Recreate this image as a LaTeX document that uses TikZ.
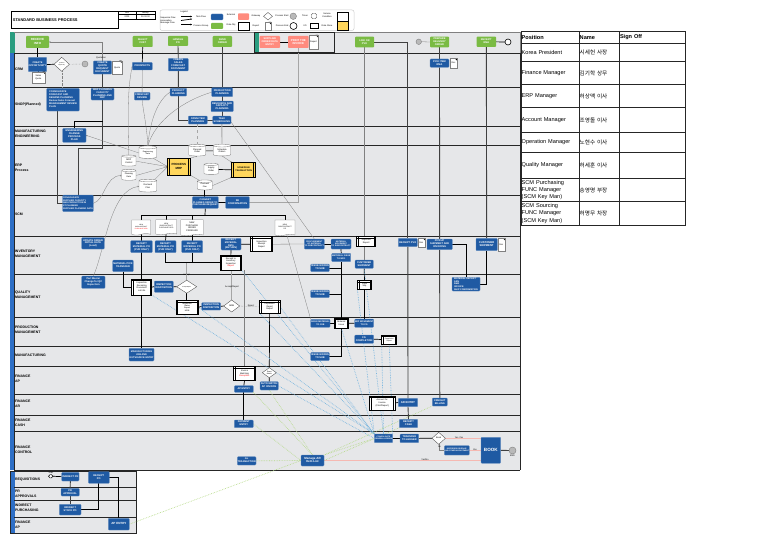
\documentclass[tikz,border=0pt]{standalone}
\usepackage{fontspec}
\usepackage{graphicx}
\setmainfont{Liberation Sans}
\newfontfamily\krfont{Noto Sans CJK KR}
\usetikzlibrary{shapes.geometric,shapes.symbols,shapes.misc,arrows.meta,calc}
\definecolor{lanegray}{HTML}{E6E7E9}
\definecolor{bbl}{HTML}{1F5AA3}
\definecolor{ggn}{HTML}{7ABB43}
\definecolor{pnk}{HTML}{FF8B7E}
\definecolor{stripb}{HTML}{2E6FC6}
\definecolor{teal1}{HTML}{2A9D80}
\definecolor{yel}{HTML}{FFD65C}
\definecolor{dotb}{HTML}{6FB2DE}
\definecolor{dotg}{HTML}{B4DA86}
\definecolor{pnkl}{HTML}{F6B9B2}
\pgfdeclarelayer{bgl}\pgfdeclarelayer{edg}\pgfsetlayers{bgl,edg,main}
\newcommand\bxt{\fontsize{2.5}{2.9}\selectfont\bfseries}
\newcommand\lbt{\fontsize{3.5}{5.2}\selectfont\bfseries}
\newcommand\smt{\fontsize{2.2}{2.6}\selectfont}
\newcommand\cellt{\fontsize{5.6}{7.4}\selectfont}
\def\myfac{1}\def\myal{c}
\newsavebox\myb
\newcommand\fitt[1]{\sbox\myb{\if l\myal\begin{tabular}{@{}l@{}}#1\end{tabular}\else\begin{tabular}{@{}c@{}}#1\end{tabular}\fi}%
 \pgfmathsetmacro\mysc{min(1,\myfac*(\mywd-.8)/max(\wd\myb,.1),\myfac*(\myht-.4)/max(\ht\myb+\dp\myb,.1))}%
 \scalebox{\mysc}{\usebox\myb}}
\tikzset{
 lft/.code={\def\myal{l}},
 ffac/.code={\def\myfac{#1}},
 base/.style={inner sep=0pt,outer sep=0pt,align=center,font=\bxt},
 bb/.style={base,fill=bbl,text=white,rounded corners=.8pt,draw=bbl!70!white,line width=.3pt},
 gb/.style={base,fill=ggn,text=white,rounded corners=.8pt},
 pb/.style={base,fill=pnk,text=white,rounded corners=.8pt},
 dbl/.style={base,fill=white,draw=black,line width=.8pt,font=\smt,ffac=.72,
   path picture={\draw[line width=.3pt,black] ([xshift=1.4pt]path picture bounding box.north west)--([xshift=1.4pt]path picture bounding box.south west)
     ([xshift=-1.4pt]path picture bounding box.north east)--([xshift=-1.4pt]path picture bounding box.south east)
     ([yshift=-1.2pt]path picture bounding box.north west)--([yshift=-1.2pt]path picture bounding box.north east);}},
 wave/.style={base,shape=tape,tape bend top=none,tape bend height=1.5pt,fill=white,draw=gray,line width=.3pt,font=\smt,ffac=.7},
 cyl/.style={base,shape=cylinder,shape border rotate=90,aspect=.3,fill=white,draw=gray,line width=.35pt,font=\smt,ffac=.6},
 yb/.style={base,fill=yel,draw=black,line width=.7pt,font=\fontsize{3}{3.6}\selectfont\bfseries,ffac=.72,
   path picture={\draw[line width=.6pt] ([xshift=2pt]path picture bounding box.north west)--([xshift=2pt]path picture bounding box.south west)
     ([xshift=-2pt]path picture bounding box.north east)--([xshift=-2pt]path picture bounding box.south east);}},
 dia/.style={base,shape=diamond,aspect=1.3,fill=white,draw=black!70,line width=.35pt,font=\smt,ffac=.45},
 ev/.style={base,shape=circle,fill=gray!55,draw=gray,line width=.4pt},
 evk/.style={base,shape=circle,fill=white,draw=black,line width=.6pt},
 dc/.style={base,fill=white,draw=gray,line width=.3pt,font=\smt,ffac=.8,
   path picture={\fill[black] ([xshift=-2.4pt]path picture bounding box.north east) -- (path picture bounding box.north east) -- ([yshift=-2.4pt]path picture bounding box.north east) -- cycle;}},
 lbl/.style={base,font=\lbt,anchor=west,align=left},
 tag/.style={base,font=\smt},
 cell/.style={inner sep=.6pt,outer sep=0pt,draw=black!85,line width=.7pt,font=\cellt,align=left},
 ln/.style={draw=black,line width=.7pt},
 ln2/.style={draw=black!75,line width=.9pt},
 gl/.style={draw=gray,line width=.4pt},
 gl2/.style={draw=gray!70,line width=.9pt},
 gc/.style={draw=gray,line width=.3pt},
 bd/.style={draw=dotb,line width=.65pt,densely dotted},
 gd/.style={draw=dotg,line width=.65pt,densely dotted},
 pd/.style={draw=pnkl,line width=.5pt},
 tip/.style={-{Stealth[length=1.5pt,width=1.5pt]}},
}
\newcommand\bx[7][]{\pgfmathsetmacro\mywd{#5-#3}\pgfmathsetmacro\myht{#6-#4}\pgfmathsetmacro\mycx{(#3+#5)/2}\pgfmathsetmacro\mycy{(#4+#6)/2}%
 \node[#1,minimum width=\mywd pt,minimum height=\myht pt] (#2) at (\mycx,\mycy) {\fitt{#7}};}
\newcommand\cel[7]{\pgfmathsetmacro\mywd{#4-#3}\pgfmathsetmacro\myht{#6-#5}\pgfmathsetmacro\mycx{(#3+#4)/2}\pgfmathsetmacro\mycy{(#5+#6)/2}\pgfmathsetmacro\mytw{#4-#3-1.4}%
 \node[cell,minimum width=\mywd pt,minimum height=\myht pt,text width=\mytw pt] (#1#2) at (\mycx,\mycy) {#7};}
\newcommand\trow[5]{\cel{ta}{#1}{521}{579}{#2}{#3}{#4}\cel{tb}{#1}{579}{619.3}{#2}{#3}{\krfont #5}\cel{tc}{#1}{619.3}{685.3}{#2}{#3}{}}
\begin{document}
\begin{tikzpicture}[x=1pt,y=-1pt]
\useasboundingbox (0,0) rectangle (768,543);
% ---------- frames
\begin{pgfonlayer}{bgl}
\fill[lanegray] (14,32) rectangle (520,470);
\fill[stripb] (10,53) rectangle (14.5,470);
\fill[teal1] (10,32) rectangle (14.5,53);
\draw[gray,line width=.6pt] (14,32) -- (520,32) -- (520,53);
\foreach \yy in {53,87,126,145,195,236,274,317,346,366,394,415.5,431.5,470}
  \draw[black!85,line width=.75pt] (14,\yy) -- (520,\yy);
\draw[black!85,line width=.75pt] (520,53) -- (520,470);
\draw[black!85,line width=.6pt] (14.5,53) -- (14.5,470);
\fill[lanegray] (14,472) rectangle (136.7,533.5);
\fill[stripb] (10,472) rectangle (14.5,533.5);
\draw[black!85,line width=.7pt] (10,471.7) rectangle (136.7,533.5);
\foreach \yy in {487.7,500.7,517.3}
  \draw[black!85,line width=.7pt] (14,\yy) -- (136.7,\yy);
\end{pgfonlayer}
% ---------- header
\node[base,draw=black,line width=.6pt,font=\fontsize{4}{4.6}\selectfont\bfseries,text width=104pt,inner xsep=1.1pt,align=left,minimum height=16.8pt] (title) at (64.85,20.1) {STANDARD BUSINESS PROCESS};
\bx[base,draw=black,line width=.5pt,font=\smt]{hA}{118}{11.7}{136}{14.7}{Rev}
\bx[base,draw=black,line width=.5pt,font=\smt]{hB}{136}{11.7}{155}{14.7}{Modify}
\bx[base,draw=black,line width=.5pt,font=\smt]{hC}{118}{14.7}{136}{19}{0000}
\bx[base,draw=black,line width=.5pt,font=\smt]{hD}{136}{14.7}{155}{19}{00.00.00}
\bx[base,draw=black!20,line width=.5pt,rounded corners=2pt]{legend}{160}{10}{354}{30.5}{}
\node[tag] (legT) at (184,12) {Legend};
\node[tag,align=left] (legL) at (168,20.5) {Sequence Flow\\Association\\Message Flow};
\coordinate (la1) at (181,16.5); \coordinate (la2) at (192,16.5);
\coordinate (lb1) at (181,20.5); \coordinate (lb2) at (192,19);
\coordinate (lc1) at (181,24.5); \coordinate (lc2) at (192,24.5);
\draw[ln,tip] (la1)--(la2); \draw[ln,tip] (lb1)--(lb2); \draw[ln,tip] (lc1)--(lc2);
\node[tag] (l1) at (201,17) {Task Flow}; \node[tag] (l2) at (201,26) {Process Group};
\bx[bb]{lgB}{211}{14}{223}{20}{}
\bx[gb]{lgG}{211}{23}{223}{29}{}
\node[tag] (l3) at (231,15) {External}; \node[tag] (l4) at (231,25) {Data Obj};
\bx[pb]{lgP}{238}{13.3}{249}{20}{}
\bx[base,fill=white,draw=black,line width=.3pt]{lgW}{238}{22}{249}{30}{}
\node[tag] (l5) at (256,16) {Gateway}; \node[tag] (l6) at (256,26) {Report};
\bx[dia,aspect=1]{lgD}{263.5}{12.5}{272.5}{20}{}
\bx[dc]{lgDoc}{265}{22}{271}{30}{}
\node[tag] (l7) at (282,16) {Process Start}; \node[tag] (l8) at (282,26) {Process End};
\bx[ev]{lgS}{290}{13}{296.5}{19.5}{}
\bx[evk]{lgE}{290}{22.5}{297}{29.5}{}
\node[tag] (l9) at (305,15.5) {Timer}; \node[tag] (l10) at (305,26) {I/O};
\bx[base,shape=regular polygon,regular polygon sides=8,fill=white,draw=black!70,line width=.4pt]{lgO}{311}{13}{317}{19}{}
\bx[base,fill=white,draw=black,line width=.4pt]{lgC}{310}{23}{318}{28.5}{}
\node[tag,align=center] (l11) at (327,15) {Service\\Condition}; \node[tag] (l12) at (327,26) {Data Store};
\bx[base,fill=white,draw=black,line width=.9pt]{lgK1}{337}{12.7}{348}{21}{}
\bx[base,fill=yel,draw=black,line width=.9pt]{lgK2}{337}{21}{348}{30}{}
% ---------- lane labels
\node[lbl] (L1) at (15,69) {CRM};
\node[lbl] (L2) at (15,105) {SNOP(Planned)};
\node[lbl] (L3) at (15,134) {MANUFACTURING\\ENGINEERING};
\node[lbl] (L4) at (15,168) {ERP\\Process};
\node[lbl] (L5) at (15,214) {SCM};
\node[lbl] (L6) at (15,254) {INVENTORY\\MANAGEMENT};
\node[lbl] (L7) at (15,294.5) {QUALITY\\MANAGEMENT};
\node[lbl] (L8) at (15,330) {PRODUCTION\\MANAGEMENT};
\node[lbl] (L9) at (15,355) {MANUFACTURING};
\node[lbl] (L10) at (15,379) {FINANCE\\AP};
\node[lbl] (L11) at (15,403.5) {FINANCE\\AR};
\node[lbl] (L12) at (15,423) {FINANCE\\CASH};
\node[lbl] (L13) at (15,449.5) {FINANCE\\CONTROL};
\node[lbl] (L14) at (15,479.5) {REQUISITIONS};
\node[lbl] (L15) at (15,493.5) {PR\\APPROVALS};
\node[lbl] (L16) at (15,508) {INDIRECT\\PURCHASING};
\node[lbl] (L17) at (15,525) {FINANCE\\AP};
% ---------- top lane
\bx[gb,font=\fontsize{3}{3.6}\selectfont\bfseries]{gRecv}{26}{36}{49}{48}{RECEIVE\\INFO}
\bx[gb]{gSel}{132.7}{36}{152.7}{47}{SELECT\\CUST}
\bx[gb]{gHan}{168}{36}{188}{46}{HANDLE\\PO}
\bx[gb]{gSend}{212.7}{36}{232}{47}{SEND\\ORDER}
\bx[base,draw=black!85,line width=.9pt]{grp}{254.5}{32.5}{334}{52.5}{}
\bx[base,fill=teal1]{grpS}{255}{33}{258.5}{52}{}
\bx[pb]{pk1}{259.5}{36}{280}{48}{SUPPLIER\\ORDER DATA\\ENTRY}
\bx[pb,font=\fontsize{2.8}{3.3}\selectfont\bfseries]{pk2}{288}{36}{308.7}{48}{PRINT THE\\INVOICE}
\bx[dc]{pdoc}{309}{35}{318}{49}{Report}
\bx[gb]{gLink}{355}{36.7}{374}{47.3}{LINK OR\\PVO}
\bx[ev]{gcirc}{416}{39}{421.5}{44.5}{}
\bx[gb]{gDel}{430}{36.7}{449}{47.3}{PREPARE\\DELIVERY\\ORDER}
\bx[gb]{gShip}{476.7}{36.7}{496}{47}{RECEIPT\\RMA}
\bx[evk]{ccirc}{505}{39}{511}{45}{}
% CRM
\bx[bb]{opp}{28.3}{57.3}{46.7}{71.7}{CREATE\\OPPORTUNITY}
\bx[dia]{dia1}{54}{57.3}{69.4}{71.3}{Qualified\\Opportunity}
\bx[ev]{circ1}{82}{61}{88}{67}{}
\bx[dc]{doc1}{31.7}{71.7}{45}{83.3}{Sales\\Quote}
\bx[bb]{crm2}{93.3}{61}{111.7}{74}{CREATE\\QUOTE\\REQUEST\\DOCUMENT}
\bx[dc]{doc2}{112.3}{60.7}{121.7}{74.3}{Quote}
\node[tag] (tg1) at (101,57.5) {Quotation};
\bx[bb]{crm3}{132.3}{62.3}{152.3}{70}{PROSPECTS}
\bx[bb]{crm4}{168.3}{58.3}{188.3}{71}{CREATE\\SALES\\FORECAST\\DOCUMENT}
\bx[bb]{wh}{430}{59}{449}{67.3}{PICK ITEM\\RMA}
\bx[dc]{wdoc}{450}{58.3}{457}{67.7}{Doc}
% SNOP
\bx[bb,lft,font=\fontsize{2.4}{3}\selectfont\bfseries]{snop1}{46.7}{88.3}{79.3}{111}{CONSOLIDATE\\FORECAST AND\\DEMAND PLANNING\\Review Sales Forecast\\MANAGEMENT REVIEW\\PLAN}
\bx[bb]{snop2}{91}{88.3}{114}{100}{MRP PLANNING\\CAPACITY\\PLANNING AND\\DRP}
\bx[bb]{snop3}{134.3}{92.3}{150}{100}{FORECAST\\REVIEW}
\bx[bb]{snop4}{170}{88.3}{186.7}{96}{PRODUCT\\PLANNING}
\bx[bb]{snop5}{211.7}{87.7}{232.7}{96.7}{PRODUCTION\\PLANNING}
\bx[bb]{snop6}{211}{101}{233.3}{111.7}{RESOURCE AND\\CAPACITY\\PLANNING}
\bx[bb]{snopA}{188.3}{116}{207.3}{124}{OPEN ITEM\\PLANNING}
\bx[bb]{snopB}{212.7}{116}{231}{124}{TASK\\SCHEDULING}
% MFG ENG
\bx[bb]{mfg1}{62.7}{128.3}{86}{142.3}{ENGINEERING\\CHANGE\\PROCESS\\PLAN}
% ERP
\bx[cyl]{cA}{139}{146.7}{156.7}{159.3}{Engineering\\Data}
\bx[cyl]{cB}{121.7}{155.7}{136}{166.7}{MRP\\Control}
\bx[cyl]{cC}{121.7}{170}{136}{181}{Planning\\Data}
\bx[cyl]{cD}{139}{180}{156.7}{192.7}{Demand\\Plan}
\bx[yb]{yA}{167.7}{158.3}{190}{175}{PROCESS\\MRP}
\bx[cyl]{cE}{188.7}{145}{205.7}{156.7}{Planned\\Order}
\bx[cyl]{cF}{213.3}{145}{230.7}{156.7}{Schedule\\Orders}
\bx[cyl]{cG}{204}{164}{218.3}{175}{Supply\\Order}
\bx[yb]{yB}{231.7}{162.3}{255.7}{177.3}{SCHEDULE\\TRANSACTION}
\bx[cyl]{cH}{197.3}{180.7}{212.3}{190.7}{Purchase\\Plan}
% SCM
\bx[bb,lft]{scm1}{62.7}{195}{93.3}{211.7}{CONSOLIDATE\\SUPPLIER CAPACITY\\AND PRODUCTION IN\\ST PLANNING\\SUPPLIER PLANNING DATA}
\bx[bb]{scmA}{192.3}{196.7}{218.3}{208.3}{CONVERT\\PLANNED ORDER TO\\PURCHASE REQUEST}
\bx[bb]{scmB}{225.7}{196.7}{249.3}{208.3}{SD\\CONFIRMATION}
\bx[wave]{w1}{131.7}{219.3}{150.7}{234.3}{NEW\\SUBCONTRACT\\\textcolor{red}{PURCHASE ORD}}
\bx[wave]{w2}{155.7}{219}{176.7}{234}{NEW\\SUBCONTRACT\\PURCHASE ORD}
\bx[wave]{w3}{180.7}{219}{203.3}{235}{NEW\\PURCHASE\\ORDER\\STANDARD}
\bx[wave]{w4}{275}{219.3}{295}{235}{NEW\\SUBCONTRACT\\PO}
% INVENTORY
\bx[bb]{inv4}{81.7}{237.7}{104.3}{249}{UPDATE ORDER\\INITIAL DATE\\(Lead)}
\bx[bb]{inv1}{130.7}{240.7}{152.3}{252.7}{RECEIPT\\MATERIAL PO\\(PUR ONLY)}
\bx[bb]{inv2}{155}{240.7}{176}{252.7}{RECEIPT\\MATERIAL PO\\(PUR ONLY)}
\bx[bb]{inv3}{181.7}{240.7}{202.7}{252.7}{RECEIPT\\MATERIAL PO\\(PUR ONLY)}
\bx[bb]{inv5}{221}{238.3}{241}{250}{RECEIPT\\MATERIAL\\RMA\\(RETURN)}
\bx[dbl]{d2}{250.7}{236.7}{272.3}{251.7}{Inspection\\Receipt\\Report}
\bx[bb]{p1}{304.3}{239}{324.3}{249}{PROCUREMENT\\OF MATERIAL\\TO SUBCONTRACT}
\bx[bb]{p2}{331}{239}{351}{249}{MATERIAL\\MOVEMENT\\TO SUBCONTRACT}
\bx[bb]{p3}{331.7}{253.3}{350.7}{261.7}{MATERIAL ISSUE\\TO MFG}
\bx[dbl]{dt}{356.7}{236.7}{375.7}{246.7}{Shipment\\Report}
\bx[bb]{rcv}{398.3}{238.3}{417.3}{246.7}{RECEIPT PVO}
\bx[dc]{rdoc}{417.7}{238}{425}{247}{Doc}
\bx[bb]{pick}{427}{239}{452.3}{249.6}{PICKUP\\SHIPMENT AND\\INVOICING}
\bx[bb,font=\fontsize{2.7}{3.2}\selectfont\bfseries]{custS}{476}{238.3}{497.3}{250.6}{CUSTOMER\\SHIPMENT}
\bx[dc]{cdoc}{497.7}{238}{505}{251}{Doc}
\bx[bb]{invA}{112.7}{260}{133.3}{271.7}{MATERIAL PICK\\TRANSFER}
\bx[dbl]{dblI}{220}{255}{241.7}{270}{Receipt to\\Inventory\\Inspection\\\textcolor{red}{Report}}
\bx[bb]{m1}{310.7}{264}{329.3}{271.7}{ISSUE GOODS\\TO SUB}
\bx[bb]{cust}{355}{260}{373.3}{268.3}{CUSTOMER\\SHIPMENT}
% QUALITY
\bx[bb]{q1}{81.7}{276}{105}{288.3}{Part Master\\Change for QC\\Inspection}
\bx[dbl]{qd1}{131.7}{279.3}{151.7}{295}{Inspection\\Receiving\\Document\\Lot Info}
\bx[bb]{qb1}{154.3}{281}{173.3}{292.3}{INSPECTION\\DISPOSITION}
\bx[dia]{qdia1}{176.7}{280.2}{196.7}{293.2}{Accept/Reject}
\node[tag] (qtg1) at (186.7,275) {Accept};
\bx[dbl]{qd2}{176}{300.7}{198.3}{314}{Inspection\\Status\\Report\\MRB}
\bx[bb]{qb2}{201.7}{302.7}{220.7}{310}{INSPECTION\\DISPOSITION}
\bx[dia]{qdia2}{223.7}{300}{239.7}{312}{MRB}
\node[tag] (qtg2) at (232,287.3) {Accept/Reject};
\node[tag] (qtg3) at (251,306) {Reject};
\bx[dbl]{qd3}{259.3}{300.7}{280}{313}{Inspection\\Reject\\Report}
\bx[bb]{m2}{310.7}{290}{329.3}{297.7}{ISSUE GOODS\\TO SUB}
\bx[dbl]{qs}{357.3}{280.7}{371.7}{289}{Pack\\Slip}
\bx[bb,lft]{sum}{452}{277.3}{480}{291}{MATERIAL RECEIPT\\ASN\\RMA\\INVOICE\\SHIP CONFIRMATION}
% PRODUCTION
\bx[bb]{m4}{310.7}{319.3}{330}{327.3}{ISSUE MATERIAL\\TO JOB}
\bx[dbl]{pd1}{334}{318.3}{348.7}{328.3}{Material\\Issue}
\bx[bb]{pc1}{354.7}{319}{373.7}{327.3}{WIP MOVEMENT\\TO FG}
\bx[bb]{pc2}{354.7}{335}{373.7}{343.3}{FG\\COMPLETION}
\bx[dbl]{pdb}{381.7}{335}{396.7}{344}{Job\\Completion\\Report}
% MFG
\bx[bb]{mfgB}{129}{348.3}{154}{361}{MANUFACTURING\\JOB AND\\OUTSOURCE ENTRY}
\bx[bb]{m3}{310.7}{352.3}{329.3}{360.7}{ISSUE GOODS\\TO SUB}
% FINANCE
\bx[dbl]{fdbl}{233.3}{366.7}{255.7}{380.7}{Invoice\\Matching\\\textcolor{red}{Exception}}
\bx[dia]{fdia}{262.3}{367.7}{276.3}{377.7}{Exact\\Match}
\bx[bb]{fb1}{234.3}{385.7}{253.3}{392.3}{AP ENTRY}
\bx[bb]{fb3}{260}{381.7}{278.3}{390}{AUTO MATCH\\AP INVOICE}
\bx[dbl]{fd}{369.3}{396}{395}{410}{Account for\\Invoice\\(Print/Report)}
\bx[bb,font=\fontsize{2.8}{3.3}\selectfont\bfseries]{ar1}{398.3}{398.3}{417.7}{406.7}{AR ENTRY}
\bx[bb]{ship}{432.3}{398}{447.3}{406}{FREIGHT\\BILLING}
\bx[bb]{fb2}{234.3}{420}{253.3}{427.7}{PAYMENT\\ENTRY}
\bx[bb]{cash}{399.3}{419.3}{417.7}{427.7}{RECEIPT\\CASH}
\bx[bb]{cons}{374.3}{434}{392.7}{442.7}{CONSOLIDATE\\GENERAL LEDGER}
\bx[bb]{ft}{400}{434}{418.7}{442.7}{TRANSFER\\TO LEDGER}
\bx[dia]{fdia2}{432}{432.3}{445.4}{444.3}{Book}
\bx[bb]{fbx}{444.3}{445.7}{469.3}{455}{DEFERRED REVENUE\\AND OTHER ADJUSTMENT}
\bx[bb,font=\fontsize{4.6}{5}\selectfont\bfseries]{book}{481}{437.3}{500.7}{463.3}{BOOK}
\bx[ev]{endc}{509}{447}{516}{454}{}
\node[tag] (endt) at (512.5,456) {END};
\bx[bb]{gl}{237.3}{456.7}{256}{465}{GL\\TRANSACTION}
\bx[bb,font=\fontsize{3}{3.5}\selectfont\bfseries]{tb}{301}{455}{324}{466}{Manage AR\\Item List}
\node[tag] (yt1) at (459,438) {Yes / No};
\node[tag] (yt2) at (475,450) {Yes};
\node[tag] (yt3) at (425,460) {Yes/No};
\node[tag] (yt4) at (439.5,446.5) {No};
% mini table
\bx[base,shape=rounded rectangle,fill=white,draw=black,line width=.4pt]{rq0}{48.5}{474.5}{53}{478}{}
\node[tag] (rqt) at (51,473) {Start};
\bx[bb]{rq1}{61.7}{472.3}{79}{481}{INDIRECT PR}
\bx[bb]{rq2}{88.3}{471.7}{109.3}{483.3}{RECEIPT\\PO}
\bx[bb]{rq3}{61}{488.3}{79.3}{496}{PR\\APPROVAL}
\bx[bb]{rq4}{59.3}{504.3}{81}{515}{INDIRECT\\STOCK PO}
\bx[bb,font=\fontsize{3}{3.5}\selectfont\bfseries]{rq5}{108.3}{518.3}{129.3}{530}{AP ENTRY}
% sign-off table
\trow{0}{31.7}{43.3}{\textbf{Position}}{\rmfamily\textbf{Name}}
\node[cell,minimum width=66pt,minimum height=11.6pt,text width=64.6pt] (hsign) at (652.3,37.5) {\textbf{Sign Off}};
\trow{1}{43.3}{61.7}{Korea President}{시세헌 사장}
\trow{2}{61.7}{84.3}{Finance Manager}{김기학 상무}
\trow{3}{84.3}{107.7}{ERP Manager}{허상맥 이사}
\trow{4}{107.7}{132.3}{Account Manager}{조영돌 이사}
\trow{5}{132.3}{152.7}{Operation Manager}{노현수 이사}
\trow{6}{152.7}{178.3}{Quality Manager}{허세훈 이사}
\trow{7}{178.3}{201.7}{SCM Purchasing\\FUNC Manager\\(SCM Key Man)}{송영명 부장}
\trow{8}{201.7}{225}{SCM Sourcing\\FUNC Manager\\(SCM Key Man)}{허명무 차장}
% ---------- connectors
\begin{pgfonlayer}{edg}
\coordinate (c1) at (57.3,111); \coordinate (c2) at (78,148.3); \coordinate (c3) at (102.5,121.7);
\coordinate (bus) at (205,215); \coordinate (qa) at (244.3,270);
\coordinate (dg1) at (231,122); \coordinate (dg2) at (286,232);
\draw[ln] (gRecv.south)--(opp.north);
\draw[ln] (opp.east)--(dia1.west);
\draw[gl,densely dotted] (dia1.east)--(circ1.west);
\draw[ln] (opp.south)--(doc1.north);
\draw[gl,densely dotted] (dia1.south)--(dia1.south |- snop1.north);
\draw[gl,tip] (crm2.north) |- (gRecv.east);
\draw[ln2] (crm2.south)--(snop2.north);
\draw[ln] (gSel.south)--(crm3.north);
\draw[gl] (crm3.south)--(snop3.north);
\draw[ln2] (gHan.south)--(crm4.north);
\draw[ln2] (crm4.south)--(snop4.north);
\draw[ln2] (gSend.south)--(gSend.south |- snopB.north);
\draw[ln2] (snop4.south) |- (snopA.west);
\draw[ln2] (snopA.east)--(snopB.west);
\draw[gl2,dashed] (snopA.south)--(snopA.south |- cE.north);
\draw[gl2] (snopB.south)--(cF.north);
\draw[ln2] (c1) |- (scm1.west);
\draw[ln2] (snop2.south) |- (c2) -- (c2 |- scm1.north);
\draw[ln] (mfg1.north) |- (c3);
\draw[ln] (cE.east)--(cF.west);
\draw[ln] (cG.east)--(yB.west);
\draw[gc,tip] (cF.south)--(yB.north west);
\draw[gc,tip] (cH.east)--(yB.south west);
\draw[gc,tip] (cH.north west)--(yA.south east);
\draw[gc,tip] (yA.north east)--(cE.south);
\draw[gc,tip] (cA.south east)--(yA.west);
\draw[gc,tip] (cB.east)--(yA.west);
\draw[gc,tip] (cC.east)--(yA.west);
\draw[gc,tip] (cD.north east)--(yA.west);
\draw[gc,tip] (cA.west)--(mfg1.east);
\draw[gc,tip] (cB.north) .. controls (128,125) and (127,90) .. (crm3.west);
\draw[gc] (cA.north) .. controls (147,127) and (143,110) .. (snop3.south);
\draw[gc] (cA.north) .. controls (150,120) and (158,100) .. (snop4.west);
\draw[gc] (cA.north) .. controls (155,120) and (185,100) .. (snop5.west);
\draw[gc,tip] (scm1.east) .. controls (105,200) and (105,176) .. (cC.west);
\draw[gc,tip] (q1.north) .. controls (105,250) and (110,190) .. (cD.west);
\draw[ln] (cH.south)--(cH.south |- scmA.north);
\draw[ln] (scmB.west)--(scmA.east);
\draw[gl2] (pk2.south) |- (scmB.east);
\draw[gc] (dg1) -- (p1.north);
\draw[gc] (dg2) -- (m4.north west);
\draw[ln] (pk1.east)--(pk2.west);
\draw[ln] (scmA.south)--(bus);
\draw[ln] (w1.north) |- (bus);
\draw[ln] (w2.north) |- (bus);
\draw[ln] (w3.north) |- (bus);
\draw[ln] (w4.north) |- (bus);
\draw[ln] (w1.south)--(w1.south |- mfgB.north);
\draw[ln] (w2.south)--(inv2.north);
\draw[ln] (w3.south)--(w3.south |- inv3.north);
\draw[ln] (inv2.south) |- (dblI.west);
\draw[ln] (inv3.south) |- (dblI.west);
\draw[ln] (dblI.north)--(inv5.south);
\draw[ln] (inv5.east)--(d2.west);
\draw[gc] (d2.east)--(p1.west);
\draw[ln] (p1.east)--(p2.west);
\draw[ln] (p2.south)--(p3.north);
\draw[ln] (m1.east) -| (p3.south);
\draw[ln] (m2.east) -| (p3.south);
\draw[ln] (m3.east) -| (p3.south);
\draw[ln] (m4.east)--(pd1.west);
\draw[ln] (pd1.east)--(pc1.west);
\draw[ln] (pc1.north)--(pc1.north |- qs.south);
\draw[ln] (qs.north)--(cust.south);
\draw[gl] (cust.north)--(cust.north |- dt.south);
\draw[gl] (gLink.south)--(gLink.south |- dt.north);
\draw[ln] (pc2.east)--(pdb.west);
\draw[ln] (invA.south) |- (qd1.west);
\draw[ln] (qd1.east)--(qb1.west);
\draw[ln] (qb1.east)--(qdia1.west);
\draw[gl2] (qdia1.north)--(qdia1.north |- dblI.west);
\draw[ln] (qdia1.south)--(qdia1.south |- qd2.north);
\draw[ln] (qd2.east)--(qb2.west);
\draw[ln] (qb2.east)--(qdia2.west);
\draw[gl,densely dotted] (qdia2.east)--(qd3.west);
\draw[gl2] (qdia2.north)--(qdia2.north |- dblI.south);
\draw[gl] (qa)--(qa |- fdbl.north);
\draw[ln] (fdbl.south)--(fb1.north);
\draw[ln] (fb1.south)--(fb2.north);
\draw[ln] (qd3.south)--(fdia.north);
\draw[ln] (fdia.south)--(fb3.north);
\draw[ln2] (gLink.east) -| (rcv.north);
\draw[ln2] (rcv.south)--(ar1.north);
\draw[ln] (ar1.west)--(fd.east);
\draw[ln2] (ar1.south)--(cash.north);
\draw[ln2] (gDel.south)--(wh.north);
\draw[ln2] (wh.south)--(pick.north);
\draw[ln2] (pick.south)--(ship.north);
\draw[ln] (pick.east) -| (sum.north);
\draw[ln2] (gShip.south)--(custS.north);
\draw[ln] (custS.south) |- (sum.east);
\draw[gc] (gcirc.east)--(gDel.west);
\draw[ln] (gShip.east)--(ccirc.west);
\draw[ln] (cons.east)--(ft.west);
\draw[ln] (ft.east)--(fdia2.west);
\draw[gc] (fdia2.south) |- (fbx.west);
\draw[pd] (fdia2.east)--(fdia2.east -| book.west);
\draw[pd] (fbx.east)--(fbx.east -| book.west);
\draw[pd] (tb.east)--(tb.east -| book.west);
\draw[ln2] (book.east)--(endc.west);
\draw[ln] (rq0.east)--(rq1.west);
\draw[ln2] (rq1.south)--(rq3.north);
\draw[ln2] (rq3.south)--(rq3.south |- rq4.north);
\draw[ln] (rq4.east) -| (rq2.south);
\draw[ln] (rq2.east) -| (rq5.north);
\foreach \pa/\pb in {qd1.south east/cons.north west,dblI.south east/cons.north west,qd2.east/cons.north west,qd3.south west/cons.north west,qd3.east/cons.north west,fb3.east/cons.west,pd1.south/cons.north west,qs.south west/cons.north west,cust.south/cons.north,pdb.south/cons.north east,pdb.south west/cons.north}
  \draw[bd] (\pa)--(\pb);
\foreach \pa/\pb in {fb1.south east/tb.north,fb3.south/tb.north,fb2.east/tb.west,ship.south west/tb.north east,cons.west/tb.north east,cash.south west/tb.east,rq5.east/tb.west,gl.east/tb.west}
  \draw[gd] (\pa)--(\pb);
\end{pgfonlayer}
\end{tikzpicture}
\end{document}
